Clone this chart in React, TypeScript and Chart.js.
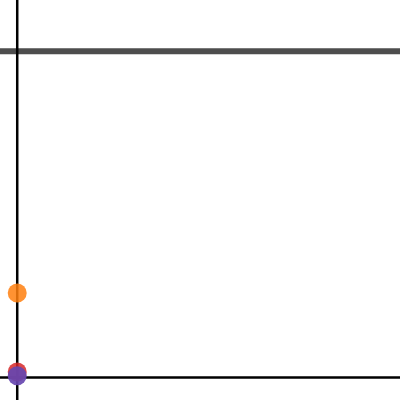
import React, { useEffect, useRef } from "react";
import { Chart, registerables } from "chart.js";

Chart.register(...registerables);

const X_MIN = -0.045;
const X_MAX = 1;
const Y_MIN = -0.266;
const Y_MAX = 4.467;

const pointNames = ["red", "purple", "orange"];
const pointX = [0, 0, 0];
const pointY = [0.065, 0.02, 1.0];
const pointColors = [
  "rgba(214,39,40,0.85)",
  "rgba(103,70,176,0.92)",
  "rgba(255,127,14,0.85)",
];

const refLineY = 3.86;

export default function App() {
  const ref = useRef<HTMLCanvasElement | null>(null);
  useEffect(() => {
    if (!ref.current) return;
    const pointSets = pointNames.map((n, i) => ({
      label: n,
      data: [{ x: pointX[i], y: pointY[i] }],
      backgroundColor: pointColors[i],
      borderWidth: 0,
      pointRadius: 9.5,
      showLine: false,
      clip: false as const,
      order: i === 1 ? 0 : i === 0 ? 1 : 2,
    }));
    const chart = new Chart(ref.current, {
      type: "scatter",
      data: {
        datasets: [
          ...pointSets,
          {
            label: "x-axis",
            data: [
              { x: X_MIN, y: 0 },
              { x: X_MAX, y: 0 },
            ],
            borderColor: "#000",
            borderWidth: 2.5,
            pointRadius: 0,
            showLine: true,
            order: 5,
          },
          {
            label: "y-axis",
            data: [
              { x: 0, y: Y_MIN },
              { x: 0, y: Y_MAX },
            ],
            borderColor: "#000",
            borderWidth: 2.5,
            pointRadius: 0,
            showLine: true,
            order: 5,
          },
          {
            label: "ref",
            data: [
              { x: X_MIN, y: refLineY },
              { x: X_MAX, y: refLineY },
            ],
            borderColor: "#4d4d4d",
            borderWidth: 6,
            pointRadius: 0,
            showLine: true,
            order: 10,
          },
        ],
      },
      options: {
        animation: false,
        responsive: false,
        maintainAspectRatio: false,
        layout: { padding: 0, autoPadding: false },
        plugins: { legend: { display: false }, tooltip: { enabled: false } },
        scales: {
          x: {
            type: "linear",
            min: X_MIN,
            max: X_MAX,
            display: false,
          },
          y: {
            type: "linear",
            min: Y_MIN,
            max: Y_MAX,
            display: false,
          },
        },
      },
    });
    return () => chart.destroy();
  }, []);
  return (
    <div style={{ position: "fixed", left: 0, top: 0, width: 400, height: 400, background: "#fff" }}>
      <canvas ref={ref} width={400} height={400} style={{ width: 400, height: 400, display: "block" }} />
    </div>
  );
}
